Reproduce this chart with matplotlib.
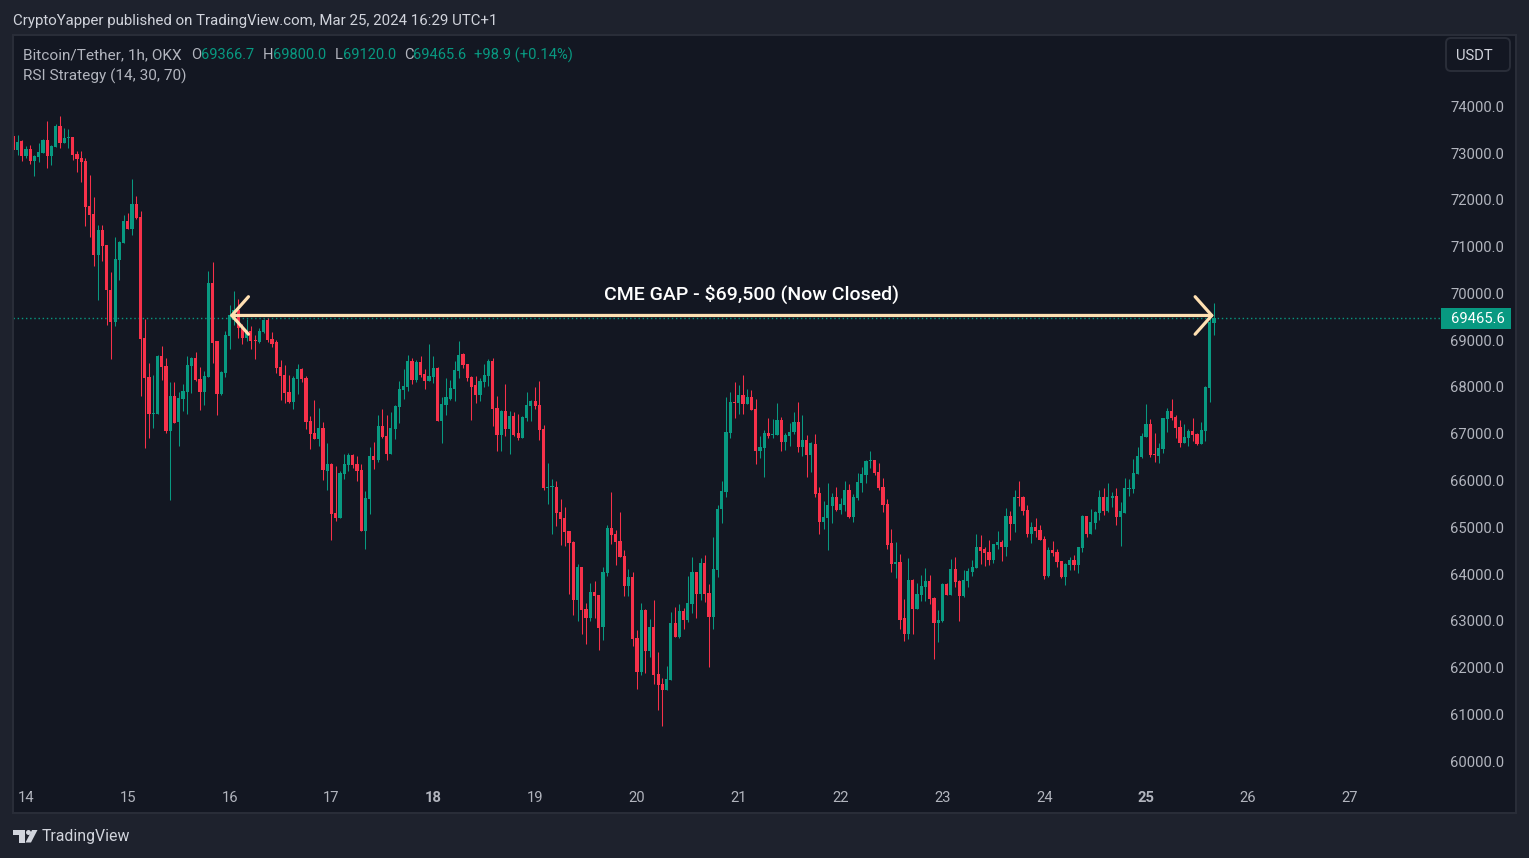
import matplotlib
matplotlib.use("Agg")
import matplotlib.pyplot as plt
from matplotlib.patches import Rectangle, FancyBboxPatch, Polygon, Circle
from matplotlib.transforms import blended_transform_factory
import numpy as np

# hourly candles, first one is 3 hours before Mar 14 00:00
opens = [73370, 73070, 73255, 72940, 73090, 72830, 72920, 73005, 73280, 72940, 73134, 73583, 73219, 73326,
         73348, 72984, 72898, 72834, 71872, 71700, 70824, 71358, 71037, 70075, 69390, 70717, 71080, 71551,
         71380, 71914, 71636, 69048, 68214, 67423, 67423, 68663, 68449, 67059, 67808, 67252, 67743, 67893,
         68449, 68620, 68171, 67893, 68214, 70225, 68984, 67850, 68300, 69091, 69433, 69647, 69262, 69048,
         69198, 69005, 68963, 69176, 69433, 69027, 68963, 68428, 68257, 67893, 67679, 68171, 68385, 68192,
         67272, 67016, 66887, 67123, 66203, 66353, 65305, 65198, 66139, 66331, 66545, 66353, 66224, 64920,
         65604, 66524, 66438, 67166, 66952, 66567, 67101, 67572, 67936, 68000, 68556, 68149, 68534, 68278,
         68128, 68214, 68406, 67272, 67615, 67743, 67957, 68342, 68706, 68492, 68214, 68043, 67829, 68107,
         68235, 68556, 67551, 66973, 67486, 67101, 67379, 67016, 66909, 67337, 67593, 67700, 67615, 67101,
         65839, 65861, 65861, 65326, 65198, 64920, 64684, 63444, 64149, 63251, 63058, 63614, 63550, 62866,
         64021, 64983, 64855, 64705, 64384, 63743, 63935, 62631, 61903, 63229, 62352, 62866, 61860, 61647,
         61518, 61732, 62951, 62652, 63208, 63016, 63358, 64042, 63572, 64235, 63593, 63080, 64085, 65390,
         65753, 67015, 67679, 67657, 67828, 67636, 67785, 67529, 66630, 66695, 67015, 66973, 66973, 67293,
         66823, 66951, 67037, 67251, 66716, 66866, 66545, 66780, 65732, 65112, 65197, 65454, 65647, 65369,
         65476, 65797, 65219, 65626, 65947, 66118, 66417, 66439, 66182, 65861, 65497, 64663, 64214, 64257,
         63059, 62717, 63872, 63251, 63551, 63722, 63850, 63487, 62952, 62995, 63786, 63551, 64107, 63850,
         63530, 63850, 64043, 64129, 64578, 64535, 64471, 64300, 64620, 64685, 64578, 65241, 65070, 65647,
         65647, 65369, 64856, 65005, 64941, 64749, 63957, 64514, 64471, 64278, 63936, 64193, 64300, 64193,
         64556, 65241, 64856, 65091, 65305, 65647, 65348, 65626, 65669, 65219, 65305, 65818, 65818, 66139,
         66503, 66931, 67209, 66567, 66524, 66674, 67316, 67487, 67358, 67145, 66802, 66909, 67059, 66995,
         66781, 67059, 67979, 69366.7]
highs = [73426, 73390, 73283, 73155, 73169, 72963, 73219, 73305, 73690, 73176, 73626, 73797, 73540, 73519,
         73348, 73048, 73048, 72898, 72535, 72064, 71465, 71465, 71037, 70460, 71209, 71123, 71679, 71722,
         72449, 72086, 71765, 69455, 68513, 68257, 68685, 68877, 68620, 68107, 68107, 67893, 68064, 68663,
         68642, 68749, 68428, 68342, 70481, 70674, 68984, 68342, 69198, 69754, 70053, 69882, 69348, 69455,
         69305, 69112, 69262, 69455, 69476, 69176, 69005, 68578, 68471, 68257, 68235, 68492, 68406, 68235,
         67379, 67722, 67551, 67251, 66802, 66374, 66310, 66203, 66567, 66588, 66567, 66524, 66353, 65775,
         66716, 66823, 67401, 67529, 67401, 67465, 67615, 68128, 68385, 68684, 68620, 68577, 68663, 68385,
         68920, 68663, 68428, 67786, 68192, 68149, 68556, 68984, 68727, 68492, 68235, 68235, 68192, 68492,
         68599, 68620, 67807, 67508, 68064, 67486, 67465, 67422, 67379, 67893, 67722, 68000, 68128, 67187,
         66374, 66032, 65989, 65604, 65433, 64920, 64706, 64214, 64149, 63379, 63807, 63850, 63550, 64149,
         65048, 65753, 64941, 65326, 64513, 64106, 64042, 62802, 63379, 63251, 63037, 63443, 62331, 61775,
         62032, 63187, 63294, 63358, 63272, 63957, 64363, 64042, 64342, 64406, 63786, 64791, 65475, 65989,
         67785, 67892, 68106, 68042, 68256, 67957, 67935, 67743, 66951, 67080, 67336, 67315, 67657, 67358,
         67015, 67229, 67465, 67679, 67400, 66973, 66823, 66994, 65860, 65561, 65946, 65732, 65860, 65626,
         65989, 65925, 65711, 66160, 66289, 66439, 66631, 66439, 66374, 66054, 65604, 64963, 64685, 64428,
         63465, 64342, 63893, 63808, 63979, 64129, 63979, 63508, 63230, 63808, 63808, 64321, 64364, 63872,
         64086, 64129, 64300, 64856, 64834, 64578, 64727, 64642, 64920, 64727, 65412, 65348, 65797, 65989,
         65669, 65476, 65112, 65198, 65048, 64813, 64578, 64706, 64535, 64278, 64236, 64364, 64407, 64578,
         65262, 65241, 65391, 65348, 65797, 65840, 65947, 65754, 65840, 65540, 66054, 66032, 66460, 66717,
         67016, 67637, 67316, 67016, 66802, 67337, 67551, 67743, 67401, 67294, 67209, 67102, 67337, 67016,
         67252, 68022, 69476, 69800]
lows = [72927, 72963, 72834, 72898, 72770, 72513, 72813, 73005, 72684, 72749, 73134, 73112, 73219, 73112,
        72856, 72599, 72385, 71444, 71209, 70588, 69861, 70695, 69326, 68599, 69305, 70289, 71080, 71380,
        71251, 71594, 67808, 66695, 66909, 67123, 67423, 68150, 67016, 65583, 67230, 66738, 67487, 67423,
        67872, 68128, 67508, 67615, 68214, 68513, 67401, 67829, 68214, 68813, 69326, 69048, 68920, 68984,
        68813, 68599, 68941, 69155, 68963, 68856, 68300, 67722, 67658, 67658, 67530, 67850, 68107, 67101,
        66674, 66887, 66738, 66011, 65797, 64727, 65133, 65198, 66032, 66203, 66267, 65989, 64920, 64535,
        65283, 66246, 66396, 66909, 66438, 66567, 66887, 67230, 67743, 67914, 68064, 68107, 68214, 67957,
        68128, 68085, 67272, 66802, 67401, 67722, 67700, 68192, 68406, 68128, 67294, 67658, 67700, 68000,
        68021, 67166, 66631, 66631, 66952, 66567, 66952, 66866, 66909, 67272, 67272, 67529, 66866, 65797,
        65497, 64855, 65027, 64620, 64599, 63572, 63123, 62995, 62716, 62502, 62994, 63058, 62374, 62588,
        63957, 64641, 64192, 64363, 63529, 63529, 62459, 61540, 61839, 61882, 62224, 61647, 61090, 60748,
        61518, 61732, 62652, 62631, 62823, 62973, 63165, 63058, 63443, 63401, 62010, 62823, 63935, 65090,
        65647, 66908, 67336, 67422, 67422, 67636, 67507, 66352, 66481, 66074, 66908, 66908, 66973, 66630,
        66652, 66737, 66994, 66609, 66523, 66074, 66181, 65647, 64855, 64962, 64513, 65090, 65347, 65284,
        65348, 65198, 65112, 65583, 65754, 65947, 66267, 66118, 65797, 65326, 64535, 64043, 63915, 62824,
        62567, 62610, 62717, 63251, 63423, 63423, 63358, 62182, 62546, 62973, 63551, 63551, 63722, 62995,
        63508, 63722, 63957, 64129, 64214, 64171, 64193, 64235, 64535, 64278, 64385, 64727, 64899, 65455,
        65262, 64792, 64663, 64792, 64727, 63893, 63936, 64385, 64150, 63915, 63765, 64086, 64086, 64022,
        64471, 64792, 64856, 64963, 65155, 65262, 65326, 65433, 65048, 64599, 65305, 65669, 65733, 66139,
        66481, 66931, 66503, 66396, 66375, 66588, 67038, 67294, 66909, 66717, 66802, 66738, 66845, 66760,
        66781, 66845, 67679, 69120]
closes = [73070, 73240, 72940, 73090, 72830, 72940, 73030, 73280, 72940, 73155, 73583, 73219, 73326, 73348,
          72963, 72877, 72813, 71850, 71679, 70824, 71358, 71016, 70075, 69390, 70738, 71102, 71551, 71380,
          71914, 71615, 69027, 68193, 67423, 67444, 68663, 68428, 67059, 67808, 67230, 67765, 67915, 68471,
          68620, 68150, 67893, 68235, 70225, 68941, 67850, 68321, 69112, 69540, 69647, 69262, 69048, 69198,
          68984, 68984, 69198, 69433, 69005, 68920, 68406, 68235, 67872, 67679, 68193, 68385, 68171, 67251,
          66994, 66887, 67123, 66224, 66353, 65283, 65198, 66160, 66353, 66545, 66331, 66203, 64920, 65625,
          66524, 66438, 67166, 66930, 66567, 67123, 67593, 67957, 68021, 68556, 68149, 68534, 68256, 68128,
          68235, 68406, 67272, 67636, 67786, 67978, 68363, 68684, 68470, 68192, 68000, 67829, 68128, 68256,
          68556, 67529, 66973, 67486, 67101, 67379, 66973, 66909, 67358, 67615, 67700, 67593, 67080, 65839,
          65861, 65882, 65305, 65176, 64898, 64663, 63444, 64150, 63229, 63058, 63614, 63529, 62844, 64042,
          64983, 64834, 64684, 64363, 63743, 63935, 62609, 61903, 63229, 62352, 62866, 61839, 61625, 61518,
          61754, 62951, 62652, 63208, 63016, 63379, 64042, 63572, 64235, 63572, 63080, 64106, 65390, 65775,
          67037, 67679, 67657, 67828, 67636, 67785, 67507, 66630, 66716, 67015, 66951, 66994, 67293, 66823,
          66973, 67037, 67251, 66716, 66866, 66545, 66802, 65711, 65112, 65219, 65475, 65647, 65368, 65497,
          65797, 65219, 65647, 65968, 66139, 66417, 66439, 66160, 65840, 65476, 64620, 64214, 64257, 63016,
          62717, 63872, 63251, 63572, 63743, 63850, 63465, 62952, 63016, 63786, 63551, 64107, 63829, 63530,
          63872, 64064, 64150, 64578, 64492, 64449, 64300, 64642, 64685, 64578, 65241, 65070, 65647, 65626,
          65348, 64856, 65005, 64920, 64727, 63957, 64514, 64449, 64257, 63936, 64214, 64300, 64193, 64578,
          65241, 64856, 65113, 65326, 65647, 65348, 65647, 65669, 65219, 65348, 65840, 65840, 66161, 66524,
          66952, 67209, 66546, 66546, 66695, 67337, 67487, 67337, 67123, 66802, 66931, 67059, 66973, 66781,
          67080, 68000, 69391, 69465.6]

price_ticks = list(range(60000, 75000, 1000))
day_labels = ["14", "15", "16", "17", "18", "19", "20", "21", "22", "23", "24", "25", "26", "27"]
bold_days = ["18", "25"]
last_price = 69465.6
gap_price = 69530
gap_start, gap_end = 48, 280

W, H = 1529, 858
BG = "#1e222d"
PANE = "#131722"
BORDER = "#2a2e39"
GREEN = "#089981"
RED = "#f7314a"
TEXT = "#b2b5be"
FONT = "Roboto"
CREAM = "#ffe0b2"

plt.rcParams["font.family"] = FONT


def fx(px):
    return px / W


def fy(py):
    return 1 - py / H


fig = plt.figure(figsize=(W / 100, H / 100), dpi=100, facecolor=BG)
ax = fig.add_axes([fx(13), fy(813), (1516 - 13) / W, (813 - 35) / H], facecolor=PANE)

hours = np.arange(-3, len(opens) - 3)
o = np.array(opens)
c = np.array(closes)
colors = [GREEN if b >= a else RED for a, b in zip(opens, closes)]

ax.vlines(hours, lows, highs, colors=colors, linewidth=0.75, zorder=2)
body = np.maximum(np.abs(c - o), 25)
ax.bar(hours, body, bottom=np.minimum(o, c), width=0.75, color=colors, linewidth=0, zorder=2.5)

ax.axhline(last_price, xmax=0.955, color=GREEN, linewidth=1.0, linestyle=(0, (1, 2)), zorder=1.5)

ax.annotate("", xy=(gap_end, gap_price), xytext=(gap_start, gap_price),
            arrowprops=dict(arrowstyle="<->,head_length=12,head_width=13.5", mutation_scale=1,
                            color=CREAM, linewidth=2.3, shrinkA=0, shrinkB=0), zorder=3)
ax.text((gap_start + gap_end) / 2 + 7.1, 69970, "CME GAP - \\$69,500 (Now Closed)", color="white",
        fontsize=14.0, fontweight="medium", ha="center", va="center", zorder=4)

ax.set_xlim(-3.065, 351.2)
ax.set_ylim(58888, 75529)

ax.yaxis.tick_right()
ax.set_yticks(price_ticks)
ax.set_yticklabels([f"{p:.1f}" for p in price_ticks], ha="right")
ax.tick_params(axis="y", length=0, pad=-8.5, labelcolor=TEXT, labelsize=10.6)
ax.set_xticks([24 * i for i in range(len(day_labels))])
ax.set_xticklabels(day_labels)
ax.tick_params(axis="x", length=0, pad=-16, labelcolor=TEXT, labelsize=10.6)
for lab in ax.get_xticklabels():
    if lab.get_text() in bold_days:
        lab.set_fontweight("bold")
for s in ax.spines.values():
    s.set_color(BORDER)
    s.set_linewidth(1.4)

# last price tag
trans = blended_transform_factory(ax.transAxes, ax.transData)
ax.add_patch(Rectangle(((1441 - 13) / 1503, last_price - 225), 70 / 1503, 450, transform=trans,
                       facecolor=GREEN, edgecolor="none", zorder=5, clip_on=False))
ax.text((1477.5 - 13) / 1503, last_price - 10, f"{last_price:.1f}", transform=trans, color="white",
        fontsize=10.6, ha="center", va="center", zorder=6)

# header and legend
fig.text(fx(13), fy(20.5), "CryptoYapper published on TradingView.com, Mar 25, 2024 16:29 UTC+1",
         color="#d1d4dc", fontsize=10.83, va="center")
legend_row = [(23, "Bitcoin/Tether, 1h, OKX", TEXT, 11.05), (191, "O", TEXT, 10.6), (201.5, "69366.7", GREEN, 10.5),
              (263, "H", TEXT, 10.6), (272.5, "69800.0", GREEN, 10.5), (335, "L", TEXT, 10.6),
              (342.5, "69120.0", GREEN, 10.5), (404, "C", TEXT, 10.6), (413, "69465.6", GREEN, 10.5),
              (474.5, "+98.9 (+0.14%)", GREEN, 10.6)]
for px, s, col, size in legend_row:
    fig.text(fx(px), fy(55), s, color=col, fontsize=size, va="center")
fig.text(fx(23), fy(76), "RSI Strategy (14, 30, 70)", color=TEXT, fontsize=11.05, va="center")

# currency button
fig.add_artist(FancyBboxPatch((1446, H - 71), 64, 33, boxstyle="round,pad=0,rounding_size=5",
                              transform=None, facecolor=PANE, edgecolor=BORDER, linewidth=1.4))
fig.text(fx(1474.5), fy(56), "USDT", color="#d1d4dc", fontsize=10.6, ha="center", va="center")

# logo
logo = "#d1d4dc"
fig.add_artist(Polygon([(13, H - 830), (25, H - 830), (25, H - 842.5), (19, H - 842.5), (19, H - 835), (13, H - 835)],
                       transform=None, facecolor=logo, edgecolor="none"))
fig.add_artist(Circle((28.5, H - 832.5), 2.5, transform=None, facecolor=logo, edgecolor="none"))
fig.add_artist(Polygon([(32, H - 830), (37.5, H - 830), (31, H - 842.5), (25.5, H - 842.5)],
                       transform=None, facecolor=logo, edgecolor="none"))
fig.text(fx(42), fy(837), "TradingView", color=logo, fontsize=11.4, va="center")

fig.savefig("out.png", dpi=100, facecolor=BG)
